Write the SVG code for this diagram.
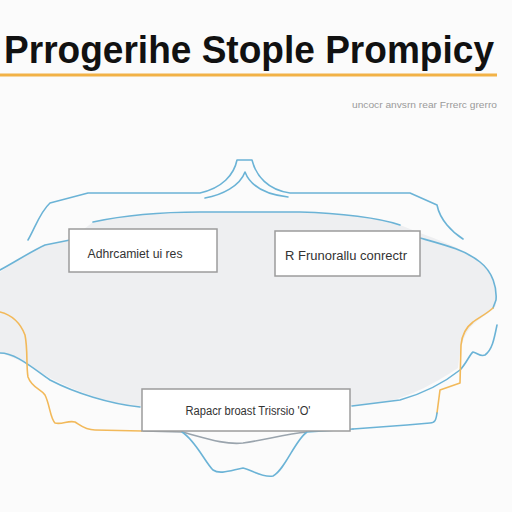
<svg xmlns="http://www.w3.org/2000/svg" width="512" height="512" viewBox="0 0 512 512">
<style>
.title{font-family:"Liberation Sans",Arial,sans-serif;font-weight:bold;font-size:38px;fill:#111}
.sub{font-family:"Liberation Sans",Arial,sans-serif;font-size:9px;fill:#9a9a9a}
.box{fill:#ffffff;stroke:#9c9c9c;stroke-width:1.5}
.lbl{font-family:"Liberation Sans",Arial,sans-serif;font-size:12px;fill:#333;text-anchor:middle}
.blue{fill:none;stroke:#6bb3d6;stroke-width:1.6;stroke-linejoin:round;stroke-linecap:round}
.orange{fill:none;stroke:#f2b95a;stroke-width:1.6;stroke-linejoin:round;stroke-linecap:round}
.grayl{fill:none;stroke:#9aa4ad;stroke-width:1.6}
</style>
<rect width="512" height="512" fill="#fbfbfb"/>
<text class="title" x="4" y="63" textLength="490" lengthAdjust="spacingAndGlyphs">Prrogerihe Stople Prompicy</text>
<line x1="0" y1="75" x2="497" y2="75" stroke="#f2b246" stroke-width="3"/>
<text class="sub" x="352" y="108" textLength="145" lengthAdjust="spacingAndGlyphs">uncocr anvsrn rear Frrerc grerro</text>

<g id="blob">
<path d="M93,222 C130,214 170,212 200,212 L300,212 C340,213 380,218 400,225 L420,233 C445,242 465,250 480,262 C493,272 497,288 496,305 C493,312 478,318 470,328 C462,338 460,350 458,368 C440,380 410,398 380,403 L352,406 L143,407 C110,404 80,393 50,378 C30,366 15,357 0,353 L0,272 C15,262 30,252 45,245 L70,240 Z" fill="#eeeff1" stroke="none"/>
</g>

<g id="connectors">
<path class="blue" d="M28,240 C35,228 40,212 50,203 L88,193 C120,193 170,193 200,193 C222,188 234,175 237,160 L252,160 C256,176 268,190 290,193 L410,193 L437,205 C440,220 452,232 463,239"/>
<path class="blue" d="M205,198 C222,195 240,186 245,172 C250,185 262,194 288,197"/>
<path class="blue" d="M93,222 C130,214 170,212 200,212 L300,212 C340,213 380,218 400,225"/>
<path class="blue" d="M420,238 C445,245 465,250 480,262 C493,272 497,288 496,300 L493,308"/>
<path class="blue" d="M70,240 L45,245 C30,252 15,262 0,270"/>
<path class="blue" d="M0,353 C15,353 30,366 50,380 C75,393 110,404 140,407"/>
<path class="blue" d="M352,406 L400,400 C425,393 445,382 460,370 C466,364 470,354 473,352 C478,353 480,357 485,355 C492,350 494,340 497,325"/>
<path class="orange" d="M493,308 C485,315 478,318 473,322 C465,328 462,335 461,345 L460,383 L440,390 L437,413"/>
<path class="blue" d="M437,413 C436,420 435,423 430,423 L407,425 L353,429"/>
<path class="orange" d="M0,312 C12,315 20,322 25,335 C28,350 26,365 28,377 C32,388 40,388 45,395 C50,405 50,418 55,423 C62,425 68,420 75,422 C80,425 85,430 95,430 L142,431"/>
<path class="grayl" d="M143,431 L182,432 C205,438 225,445 243,443 C265,440 285,434 307,432"/>
<path class="blue" d="M182,432 C195,440 205,462 213,470 C220,475 232,470 243,468 C252,470 262,478 273,476 C285,470 295,440 307,432 L353,429"/>
</g>

<g id="node1">
<rect class="box" x="69" y="229" width="148" height="43"/>
<text class="lbl" x="135" y="258" textLength="95" lengthAdjust="spacingAndGlyphs">Adhrcamiet ui res</text>
</g>
<g id="node2">
<rect class="box" x="275" y="231" width="145" height="45"/>
<text class="lbl" x="346" y="260" textLength="122" lengthAdjust="spacingAndGlyphs">R Frunorallu conrectr</text>
</g>
<g id="node3">
<rect class="box" x="142" y="389" width="208" height="42"/>
<text class="lbl" x="248" y="415" textLength="125" lengthAdjust="spacingAndGlyphs">Rapacr broast Trisrsio 'O'</text>
</g>
</svg>
